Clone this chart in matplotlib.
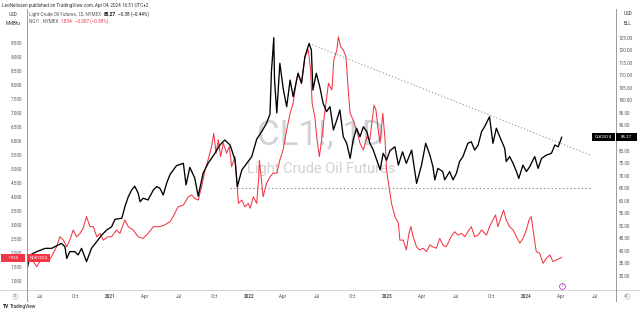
import matplotlib
matplotlib.use('Agg')
import matplotlib.pyplot as plt
import pandas as pd
from matplotlib.patches import Rectangle
from matplotlib.lines import Line2D

plt.rcParams['font.family'] = ['Roboto', 'DejaVu Sans']

# ---------------- data ----------------
cl_dates = ['2020-05-27', '2020-06-05', '2020-06-22', '2020-07-14', '2020-07-31', '2020-08-13', '2020-08-26',
            '2020-09-04', '2020-09-09', '2020-09-17', '2020-09-30', '2020-10-09', '2020-10-18', '2020-10-31',
            '2020-11-13', '2020-11-27', '2020-12-10', '2020-12-23', '2021-01-05', '2021-01-14', '2021-02-01',
            '2021-02-09', '2021-02-18', '2021-02-27', '2021-03-07', '2021-03-16', '2021-03-21', '2021-03-29',
            '2021-04-11', '2021-04-25', '2021-05-04', '2021-05-12', '2021-05-21', '2021-05-30', '2021-06-08',
            '2021-06-25', '2021-07-13', '2021-07-20', '2021-07-30', '2021-08-12', '2021-08-21', '2021-09-03',
            '2021-09-16', '2021-10-04', '2021-10-17', '2021-10-30', '2021-11-13', '2021-11-26', '2021-12-02',
            '2021-12-14', '2021-12-27', '2022-01-09', '2022-01-22', '2022-02-04', '2022-02-17', '2022-02-26',
            '2022-03-02', '2022-03-04', '2022-03-08', '2022-03-10', '2022-03-16', '2022-03-24', '2022-04-02',
            '2022-04-11', '2022-04-20', '2022-04-28', '2022-05-11', '2022-05-20', '2022-05-29', '2022-06-09',
            '2022-06-15', '2022-06-19', '2022-06-28', '2022-07-07', '2022-07-16', '2022-07-25', '2022-08-03',
            '2022-08-12', '2022-08-21', '2022-08-29', '2022-09-07', '2022-09-16', '2022-09-25', '2022-10-03',
            '2022-10-12', '2022-10-21', '2022-10-30', '2022-11-08', '2022-11-16', '2022-11-25', '2022-12-04',
            '2022-12-13', '2022-12-21', '2022-12-30', '2023-01-08', '2023-01-21', '2023-01-30', '2023-02-10',
            '2023-02-20', '2023-03-06', '2023-03-19', '2023-04-01', '2023-04-12', '2023-04-23', '2023-05-01',
            '2023-05-06', '2023-05-14', '2023-05-27', '2023-06-01', '2023-06-14', '2023-06-23', '2023-07-02',
            '2023-07-10', '2023-07-19', '2023-08-01', '2023-08-10', '2023-08-19', '2023-08-28', '2023-09-06',
            '2023-09-14', '2023-09-27', '2023-10-06', '2023-10-15', '2023-10-24', '2023-11-06', '2023-11-10',
            '2023-11-19', '2023-11-28', '2023-12-07', '2023-12-13', '2023-12-24', '2024-01-02', '2024-01-11',
            '2024-01-24', '2024-02-02', '2024-02-11', '2024-02-24', '2024-03-08', '2024-03-17', '2024-03-26',
            '2024-04-04']
cl_values = [32.4, 38.4, 39.7, 41.0, 41.0, 42.0, 43.0,
             41.7, 37.0, 39.7, 39.7, 38.4, 41.0, 35.7,
             41.0, 43.7, 46.3, 48.3, 49.6, 52.6, 53.0,
             57.6, 61.6, 64.3, 65.8, 63.0, 59.6, 61.0,
             60.3, 64.3, 65.6, 65.0, 62.3, 67.0, 70.5,
             74.0, 74.9, 66.3, 73.3, 69.0, 61.8, 71.0,
             74.9, 78.9, 82.2, 84.2, 82.2, 76.2, 65.6,
             72.3, 74.9, 77.6, 84.5, 87.5, 90.9, 94.5,
             112.0, 116.0, 125.0, 108.0, 95.0, 114.8, 104.5,
             97.5, 108.1, 101.5, 110.8, 106.8, 117.4, 122.7,
             120.1, 104.1, 110.8, 105.5, 98.8, 95.5, 97.5,
             88.2, 92.2, 96.2, 85.5, 82.9, 76.9, 84.2,
             88.9, 85.5, 89.5, 87.5, 82.9, 80.2, 76.2,
             72.3, 78.9, 76.2, 80.0, 81.5, 74.2, 79.5,
             74.9, 80.2, 66.9, 74.2, 82.9, 78.2, 73.6,
             68.3, 72.9, 71.6, 68.3, 71.6, 68.3, 71.0,
             75.6, 77.6, 82.9, 83.5, 80.2, 82.2, 87.5,
             89.5, 93.5, 82.9, 88.9, 85.5, 80.9, 75.6,
             77.6, 74.9, 71.6, 68.9, 74.2, 71.6, 73.6,
             77.6, 72.9, 76.9, 78.2, 78.9, 82.2, 81.5,
             85.27]

ng_dates = ['2020-05-28', '2020-06-05', '2020-06-13', '2020-06-22', '2020-06-30', '2020-07-14', '2020-07-22',
            '2020-07-31', '2020-08-13', '2020-08-22', '2020-08-31', '2020-09-09', '2020-09-17', '2020-09-26',
            '2020-10-05', '2020-10-14', '2020-10-22', '2020-10-31', '2020-11-09', '2020-11-18', '2020-11-27',
            '2020-12-06', '2020-12-14', '2020-12-27', '2021-01-05', '2021-01-18', '2021-01-27', '2021-02-09',
            '2021-02-18', '2021-03-03', '2021-03-16', '2021-03-29', '2021-04-11', '2021-04-25', '2021-05-12',
            '2021-05-25', '2021-06-08', '2021-06-16', '2021-06-29', '2021-07-13', '2021-07-26', '2021-08-04',
            '2021-08-12', '2021-08-21', '2021-08-30', '2021-09-08', '2021-09-16', '2021-09-25', '2021-10-01',
            '2021-10-07', '2021-10-13', '2021-10-19', '2021-10-26', '2021-11-04', '2021-11-11', '2021-11-17',
            '2021-11-26', '2021-12-05', '2021-12-14', '2021-12-22', '2021-12-31', '2022-01-05', '2022-01-13',
            '2022-01-22', '2022-01-27', '2022-01-29', '2022-02-08', '2022-02-17', '2022-02-26', '2022-03-06',
            '2022-03-16', '2022-03-24', '2022-04-02', '2022-04-11', '2022-04-20', '2022-04-28', '2022-05-07',
            '2022-05-11', '2022-05-20', '2022-05-29', '2022-06-07', '2022-06-13', '2022-06-17', '2022-06-24',
            '2022-06-30', '2022-07-06', '2022-07-12', '2022-07-21', '2022-07-30', '2022-08-08', '2022-08-13',
            '2022-08-21', '2022-08-25', '2022-08-31', '2022-09-07', '2022-09-14', '2022-09-20', '2022-09-25',
            '2022-10-03', '2022-10-12', '2022-10-21', '2022-10-30', '2022-11-08', '2022-11-16', '2022-11-21',
            '2022-11-27', '2022-12-02', '2022-12-08', '2022-12-13', '2022-12-20', '2022-12-26', '2022-12-30',
            '2023-01-04', '2023-01-12', '2023-01-21', '2023-01-30', '2023-02-03', '2023-02-12', '2023-02-20',
            '2023-02-27', '2023-03-04', '2023-03-10', '2023-03-19', '2023-03-27', '2023-04-05', '2023-04-14',
            '2023-04-23', '2023-05-01', '2023-05-10', '2023-05-19', '2023-05-27', '2023-06-05', '2023-06-18',
            '2023-06-27', '2023-07-06', '2023-07-15', '2023-07-24', '2023-08-01', '2023-08-10', '2023-08-19',
            '2023-08-28', '2023-09-06', '2023-09-19', '2023-09-27', '2023-10-06', '2023-10-13', '2023-10-19',
            '2023-10-28', '2023-11-03', '2023-11-10', '2023-11-19', '2023-11-28', '2023-12-07', '2023-12-16',
            '2023-12-24', '2024-01-02', '2024-01-09', '2024-01-15', '2024-01-21', '2024-01-28', '2024-02-06',
            '2024-02-15', '2024-02-24', '2024-03-04', '2024-03-12', '2024-03-21', '2024-03-30', '2024-04-04']
ng_values = [1.80, 1.78, 1.68, 1.50, 1.68, 1.74, 1.68,
             1.86, 2.21, 2.57, 2.45, 2.21, 2.45, 2.81,
             2.57, 2.69, 2.87, 3.29, 2.93, 2.93, 2.57,
             2.69, 2.45, 2.57, 2.57, 2.81, 2.69, 3.17,
             2.93, 2.81, 2.57, 2.51, 2.69, 2.93, 2.93,
             2.99, 3.11, 3.29, 3.64, 3.70, 4.00, 4.06,
             3.94, 3.88, 4.36, 4.95, 5.31, 5.79, 6.26,
             5.55, 6.03, 5.43, 5.91, 5.55, 5.79, 5.07,
             5.43, 3.76, 3.88, 3.64, 3.76, 3.59, 4.00,
             3.76, 4.60, 5.30, 4.00, 4.48, 4.71, 4.84,
             4.84, 5.31, 5.70, 6.38, 6.98, 7.34, 8.17,
             8.41, 8.05, 9.00, 9.24, 8.53, 7.34, 6.86,
             6.03, 5.43, 6.03, 7.10, 8.05, 7.81, 8.88,
             9.24, 9.71, 9.36, 9.24, 9.00, 7.81, 6.98,
             6.74, 6.38, 5.91, 5.67, 6.14, 6.03, 6.62,
             7.27, 7.10, 6.38, 5.91, 6.98, 6.03, 4.95,
             4.48, 3.76, 3.29, 3.05, 2.45, 2.45, 2.10,
             2.69, 2.93, 2.57, 2.21, 2.10, 2.16, 2.04,
             2.28, 2.21, 2.16, 2.51, 2.28, 2.21, 2.57,
             2.75, 2.63, 2.69, 2.57, 2.75, 2.93, 2.57,
             2.63, 2.81, 2.63, 2.93, 3.17, 3.35, 2.93,
             3.29, 3.52, 3.17, 2.93, 2.81, 2.57, 2.34,
             2.51, 2.81, 3.17, 3.29, 2.69, 2.04, 1.98,
             1.62, 1.80, 1.92, 1.68, 1.74, 1.80, 1.834]

x_tick_dates = ['2020-07-01', '2020-10-01', '2021-01-01', '2021-04-01', '2021-07-01', '2021-10-01',
                '2022-01-01', '2022-04-01', '2022-07-01', '2022-10-01', '2023-01-01', '2023-04-01',
                '2023-07-01', '2023-10-01', '2024-01-01', '2024-04-01', '2024-07-01']
x_tick_labels = ['Jul', 'Oct', '2021', 'Apr', 'Jul', 'Oct', '2022', 'Apr', 'Jul', 'Oct', '2023', 'Apr',
                 'Jul', 'Oct', '2024', 'Apr', 'Jul']
left_ticks = [1.0, 1.5, 2.0, 2.5, 3.0, 3.5, 4.0, 4.5, 5.0, 5.5, 6.0, 6.5, 7.0, 7.5, 8.0, 8.5, 9.0, 9.5]
right_ticks = [30, 35, 40, 45, 50, 55, 60, 65, 70, 75, 80, 90, 95, 100, 105, 110, 115, 120, 125]

trend_dates = ['2022-06-09', '2024-06-18']
trend_values = [122.7, 78.2]
support_dates = ['2021-11-13', '2024-06-22']
support_values = [65.0, 65.0]

# ---------------- figure ----------------
W, H = 640, 313
fig = plt.figure(figsize=(6.4, 3.13), dpi=100)
fig.patch.set_facecolor('white')

def fx(px):
    return px / W

def fy(py):
    return 1 - py / H

L, R, T, B = 26.5, 616, 10, 289.5
ax = fig.add_axes([fx(L), fy(B), fx(R) - fx(L), fy(T) - fy(B)])
ax2 = ax.twinx()

RED = '#f23645'
LBL = '#50535e'

ax.plot(pd.to_datetime(ng_dates), ng_values, color=RED, lw=0.75, zorder=3)
ax2.plot(pd.to_datetime(cl_dates), cl_values, color='#000000', lw=0.95, zorder=3)
ax2.plot(pd.to_datetime(trend_dates), trend_values, color='#8a8a8a', lw=0.7, ls=(0, (1.2, 2.2)), zorder=2)
ax2.plot(pd.to_datetime(support_dates), support_values, color='#8a8a8a', lw=0.8, ls=(0, (1.2, 2.2)), zorder=2)

ax.set_xlim(pd.Timestamp('2020-05-26'), pd.Timestamp('2024-08-25'))
ax.set_ylim(0.686, 10.668)
ax2.set_ylim(24.60, 136.04)

for a in (ax, ax2):
    for s in a.spines.values():
        s.set_visible(False)

ax.set_yticks(left_ticks)
ax.set_yticklabels([f'{v:.3f}' for v in left_ticks])
ax.tick_params(axis='y', length=0, pad=3.0, labelsize=3.3, labelcolor=LBL)
ax2.set_yticks(right_ticks)
ax2.set_yticklabels([f'{v:.2f}' for v in right_ticks])
ax2.tick_params(axis='y', length=0, pad=2.2, labelsize=3.3, labelcolor=LBL)

ax.set_xticks(pd.to_datetime(x_tick_dates))
ax.set_xticklabels(x_tick_labels)
ax.tick_params(axis='x', length=0, pad=3.2, labelsize=3.3, labelcolor=LBL)
for lab in ax.get_xticklabels():
    if lab.get_text().isdigit():
        lab.set_fontweight('bold')

# watermark
ax.text(0.4996, 0.553, 'CL1!, 1D', transform=ax.transAxes, ha='center', va='center',
        fontsize=25, color='#d0d2d6', zorder=0)
ax.text(0.4996, 0.43, 'Light Crude Oil Futures', transform=ax.transAxes, ha='center', va='center',
        fontsize=10.5, color='#d0d2d6', zorder=0)

# separators
def hline(y, x0, x1, c='#d6d6d6', lw=0.6):
    fig.add_artist(Line2D([fx(x0), fx(x1)], [fy(y), fy(y)], color=c, lw=lw, transform=fig.transFigure))

def vline(x, y0, y1, c='#d6d6d6', lw=0.6):
    fig.add_artist(Line2D([fx(x), fx(x)], [fy(y0), fy(y1)], color=c, lw=lw, transform=fig.transFigure))

hline(B, 0, W, c='#cfcfcf')
vline(L, 9, 301, c='#9a9a9a', lw=0.7)
vline(R, 9, 301, c='#9a9a9a', lw=0.7)

def rect(x0, y0, x1, y1, color):
    fig.add_artist(Rectangle((fx(x0), fy(y1)), fx(x1) - fx(x0), fy(y0) - fy(y1), facecolor=color,
                             edgecolor='none', transform=fig.transFigure, zorder=10))

def ftext(x, y, s, **kw):
    kw.setdefault('fontsize', 3.3)
    kw.setdefault('color', LBL)
    kw.setdefault('va', 'center')
    return fig.text(fx(x), fy(y), s, **kw)

renderer = fig.canvas.get_renderer()

def seq(x, y, parts, gap=2.5):
    for s, kw in parts:
        t = ftext(x, y, s, **kw)
        bb = t.get_window_extent(renderer)
        x = bb.x1 + gap

# header & legend
ftext(2, 5, 'LeoNelissen published on TradingView.com, Apr 04, 2024 16:31 UTC+2', color='#333333')
seq(29, 14.5, [('Light Crude Oil Futures, 1D, NYMEX', dict(color='#555555')),
               ('85.27', dict(color='#131722', fontweight='bold')),
               ('\u22120.38 (\u22120.44%)', dict(color='#131722'))])
seq(29, 21.5, [('NG1! \u00b7 NYMEX', dict(color='#555555')),
               ('1.834', dict(color=RED)),
               ('\u22120.007 (\u22120.38%)', dict(color=RED))])

# axis unit headers
ftext(13, 14.5, 'USD', ha='center', color='#333333')
ftext(13, 23.5, 'MMBtu', ha='center', color='#333333')
ftext(13, 29.5, '\u00b7 \u00b7 \u00b7 \u00b7 \u00b7', ha='center', color='#999999', fontsize=2.5)
ftext(628, 13.5, 'USD', ha='center', color='#333333')
ftext(628, 23.5, 'BLL', ha='center', color='#333333')

# last-value labels
rect(592, 133, 615.3, 141, '#000000')
rect(616, 133, 637, 141, '#000000')
ftext(603.6, 137, 'CLK2024', ha='center', color='white', fontsize=3.0, zorder=11)
ftext(626.5, 137, '85.27', ha='center', color='white', fontsize=3.2, zorder=11)
rect(1, 254.5, 25.5, 261.5, RED)
rect(27, 254.5, 50, 261.5, RED)
ftext(13.2, 258, '1.834', ha='center', color='white', fontsize=3.2, zorder=11)
ftext(38.5, 258, 'NGK2024', ha='center', color='white', fontsize=3.0, zorder=11)

# small UI marks
fig.add_artist(Line2D([fx(562.3)], [fy(286.3)], marker='o', markersize=4.2, mfc='white', mec='#ab47bc',
                      mew=0.6, transform=fig.transFigure, zorder=12))
ftext(562.3, 286.3, 'E', ha='center', color='#ab47bc', fontsize=2.2, zorder=13)
fig.add_artist(Line2D([fx(14.5)], [fy(296)], marker='o', markersize=4.2, mfc='#f0f0f0', mec='#cfcfcf',
                      mew=0.5, transform=fig.transFigure))
ftext(14.5, 296, '2', ha='center', color='#555555', fontsize=2.6)
fig.add_artist(Line2D([fx(626.5)], [fy(296)], marker='o', markersize=4.2, mfc='#f0f0f0', mec='#cfcfcf',
                      mew=0.5, transform=fig.transFigure))
ftext(626.5, 296, 'A', ha='center', color='#555555', fontsize=2.6)
ftext(3, 306.5, 'TV', color='#131722', fontsize=3.6, fontweight='bold')
ftext(10, 306.5, 'TradingView', color='#131722', fontsize=3.4)

fig.savefig('out.png', dpi=100, facecolor='white')
